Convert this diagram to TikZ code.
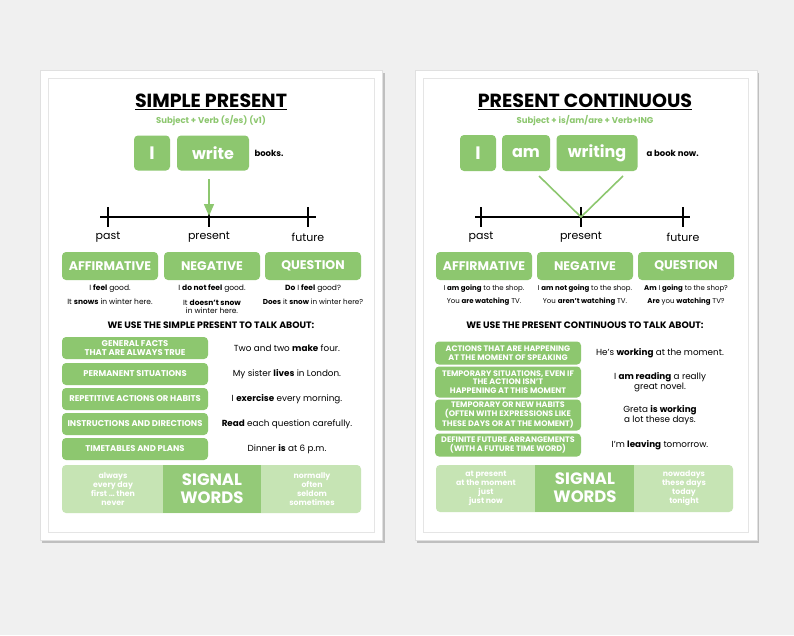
\documentclass[tikz,border=0pt]{standalone}
\usepackage{fontspec}
\usetikzlibrary{arrows.meta}
\setmainfont{Poppins}
\definecolor{gr}{HTML}{8DC76F}
\definecolor{grl}{HTML}{C6E4B4}
\definecolor{grm}{HTML}{94CA78}
\definecolor{bg}{HTML}{F0F0F0}
\begin{document}
\begin{tikzpicture}[x=1pt,y=-1pt,
  gbox/.style={fill=gr,rounded corners=4pt,text=white,font=\bfseries},
  ex/.style={font=\fontsize{7.5}{8.3}\selectfont,align=center,text=black},
  use/.style={fill=gr,rounded corners=4pt,text=white,font=\bfseries\fontsize{8.4}{8.6}\selectfont,align=center,inner sep=0pt},
  uex/.style={font=\fontsize{8.8}{9.5}\selectfont,align=center},
  sig/.style={font=\bfseries\fontsize{7.8}{9}\selectfont,text=white,align=center},
  tl/.style={line width=2pt},
  frame/.style={fill=white,draw=black!12,line width=0.6pt}]
\useasboundingbox (0,0) rectangle (794,635);
\fill[bg] (0,0) rectangle (794,635);
% frames
\fill[black!25] (42,73) rectangle (385,543);
\fill[black!25] (417,73) rectangle (759,543);
\node[frame,minimum width=342,minimum height=470,inner sep=0,anchor=north west] (fl) at (40,70) {};
\node[frame,minimum width=342,minimum height=470,inner sep=0,anchor=north west] (fr) at (415,70) {};
\draw[black!10] (48,78) rectangle (374,532);
\draw[black!10] (423,78) rectangle (748,532);

% ================= LEFT =================
\node[font=\bfseries\fontsize{19}{20}\selectfont] (t1) at (211,102) {\underline{SIMPLE PRESENT}};
\node[font=\bfseries\fontsize{8.5}{9}\selectfont,text=gr] (s1) at (211,121) {Subject + Verb (s/es) (v1)};
\node[gbox,minimum width=36,minimum height=35,font=\bfseries\fontsize{18}{18}\selectfont] (i1) at (152,153) {I};
\node[gbox,minimum width=72,minimum height=35,font=\bfseries\fontsize{16}{16}\selectfont] (w1) at (213,153) {write};
\node[anchor=west,font=\bfseries\fontsize{8.5}{9}\selectfont] (b1) at (251,153) {books.};
\coordinate (L0) at (100,217); \coordinate (L1) at (316,217);
\draw[tl] (L0) -- (L1);
\foreach \x/\n/\t in {108/pa/past,209/pr/present,308/fu/future}{
  \draw[tl] (\x,207) -- (\x,227);
  \node[font=\fontsize{11}{12}\selectfont] (l\n) at (\x,237) {\t};}
\coordinate (tp) at (209,216);
\draw[gr,line width=1.5pt,-{Triangle[width=10pt,length=12pt]}] (209,179) -- (tp);
\foreach \x/\n/\t in {110/af/AFFIRMATIVE,212/ne/NEGATIVE,313/qu/QUESTION}
  \node[gbox,minimum width=96,minimum height=28,font=\bfseries\fontsize{12.5}{13}\selectfont,inner sep=0] (h\n) at (\x,266) {\t};
\node[ex] at (110,289) {I \textbf{feel} good.};
\node[ex] at (110,302) {It \textbf{snows} in winter here.};
\node[ex] at (212,289) {I \textbf{do not feel} good.};
\node[ex] at (212,307) {It \textbf{doesn't snow}\\in winter here.};
\node[ex] at (313,289) {\textbf{Do} I \textbf{feel} good?};
\node[ex,font=\fontsize{7.2}{8.3}\selectfont] at (313,302) {\textbf{Does} it \textbf{snow} in winter here?};
\node[font=\bfseries\fontsize{9.3}{10}\selectfont] at (211,325) {WE USE THE SIMPLE PRESENT TO TALK ABOUT:};
\foreach \y/\a/\b in {
  348/{GENERAL FACTS\\THAT ARE ALWAYS TRUE}/{Two and two \textbf{make} four.},
  374/{PERMANENT SITUATIONS}/{My sister \textbf{lives} in London.},
  399/{REPETITIVE ACTIONS OR HABITS}/{I \textbf{exercise} every morning.},
  424/{INSTRUCTIONS AND DIRECTIONS}/{\textbf{Read} each question carefully.},
  449/{TIMETABLES AND PLANS}/{Dinner \textbf{is} at 6 p.m.}}{
  \node[use,minimum width=146,minimum height=22] at (135,\y) {\a};
  \node[uex] at (287,\y) {\b};}
\fill[grl,rounded corners=4pt] (62,465) rectangle (361,513);
\fill[grm] (163,465) rectangle (261,513);
\node[sig] at (113,489) {always\\every day\\first \dots\ then\\never};
\node[sig] at (312,489) {normally\\often\\seldom\\sometimes};
\node[font=\bfseries\fontsize{16.5}{18}\selectfont,text=white,align=center] at (212,489) {SIGNAL\\WORDS};

% ================= RIGHT =================
\node[font=\bfseries\fontsize{19}{20}\selectfont] (t2) at (585,102) {\underline{PRESENT CONTINUOUS}};
\node[font=\bfseries\fontsize{8.5}{9}\selectfont,text=gr] (s2) at (585,121) {Subject + is/am/are + Verb+ING};
\node[gbox,minimum width=36,minimum height=36,font=\bfseries\fontsize{18}{18}\selectfont] (i2) at (478,153) {I};
\node[gbox,minimum width=48,minimum height=36,font=\bfseries\fontsize{16}{16}\selectfont] (a2) at (526,153) {am};
\node[gbox,minimum width=81,minimum height=36,font=\bfseries\fontsize{16}{16}\selectfont] (w2) at (597,153) {writing};
\node[anchor=west,font=\bfseries\fontsize{8.5}{9}\selectfont] (b2) at (643,153) {a book now.};
\draw[tl] (475,217) -- (690,217);
\foreach \x/\n/\t in {481/pa/past,581/pr/present,683/fu/future}{
  \draw[tl] (\x,207) -- (\x,227);
  \node[font=\fontsize{11}{12}\selectfont] (r\n) at (\x,237) {\t};}
\coordinate (vt) at (581,217);
\draw[gr,line width=1.6pt] (539,176) -- (vt) -- (623,176);
\foreach \x/\n/\t in {484/af/AFFIRMATIVE,585/ne/NEGATIVE,686/qu/QUESTION}
  \node[gbox,minimum width=96,minimum height=28,font=\bfseries\fontsize{12.5}{13}\selectfont,inner sep=0] (g\n) at (\x,266) {\t};
\node[ex,font=\fontsize{7}{8}\selectfont] at (484,289) {I \textbf{am going} to the shop.};
\node[ex,font=\fontsize{7}{8}\selectfont] at (484,302) {You \textbf{are watching} TV.};
\node[ex,font=\fontsize{7}{8}\selectfont] at (585,289) {I \textbf{am not going} to the shop.};
\node[ex,font=\fontsize{7}{8}\selectfont] at (585,302) {You \textbf{aren't watching} TV.};
\node[ex,font=\fontsize{7}{8}\selectfont] at (686,289) {\textbf{Am} I \textbf{going} to the shop?};
\node[ex,font=\fontsize{7}{8}\selectfont] at (686,302) {\textbf{Are} you \textbf{watching} TV?};
\node[font=\bfseries\fontsize{9.3}{10}\selectfont] at (585,325) {WE USE THE PRESENT CONTINUOUS TO TALK ABOUT:};
\foreach \y/\h/\a/\b in {
  353/23/{ACTIONS THAT ARE HAPPENING\\AT THE MOMENT OF SPEAKING}/{He's \textbf{working} at the moment.},
  382/31/{TEMPORARY SITUATIONS, EVEN IF\\THE ACTION ISN'T\\HAPPENING AT THIS MOMENT}/{I \textbf{am reading} a really\\great novel.},
  415/31/{TEMPORARY OR NEW HABITS\\(OFTEN WITH EXPRESSIONS LIKE\\THESE DAYS OR AT THE MOMENT)}/{Greta \textbf{is working}\\a lot these days.},
  445/23/{DEFINITE FUTURE ARRANGEMENTS\\(WITH A FUTURE TIME WORD)}/{I'm \textbf{leaving} tomorrow.}}{
  \node[use,minimum width=146,minimum height=\h,font=\bfseries\fontsize{8}{8.6}\selectfont] at (508,\y) {\a};
  \node[uex] at (660,\y) {\b};}
\fill[grl,rounded corners=4pt] (436,465) rectangle (733,512);
\fill[grm] (535,465) rectangle (634,512);
\node[sig] at (486,488) {at present\\at the moment\\just\\just now};
\node[sig] at (684,488) {nowadays\\these days\\today\\tonight};
\node[font=\bfseries\fontsize{16.5}{18}\selectfont,text=white,align=center] at (585,488) {SIGNAL\\WORDS};
\end{tikzpicture}
\end{document}
